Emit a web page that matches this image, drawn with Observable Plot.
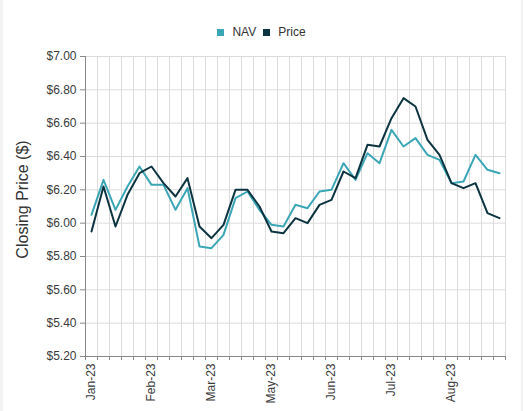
<!DOCTYPE html>
<html>
<head>
<meta charset="utf-8">
<script src="https://cdn.jsdelivr.net/npm/d3@7"></script>
<script src="https://cdn.jsdelivr.net/npm/@observablehq/plot@0.6"></script>
<style>
  body {
    margin: 0;
    background: linear-gradient(to right, #f3f3f3 0 3px, #fff 3px 521px, #f3f3f3 521px);
    font-family: "Liberation Sans", Arial, sans-serif;
  }
  #legend {
    height: 44px;
    display: flex;
    justify-content: center;
    align-items: flex-start;
    font-size: 12px;
    color: #333;
  }
  #legend span.item { display: flex; align-items: center; margin-top: 25px; }
  #legend span.sw { width: 7px; height: 7px; margin-right: 8px; }
  #legend span.item + span.item { margin-left: 7px; }
  #chart svg { display: block; }
</style>
</head>
<body>
<div id="legend"></div>
<div id="chart"></div>
<script>
// weekly closing values, Jan-23 .. Aug-23
const nav = [6.05, 6.26, 6.08, 6.22, 6.34, 6.23, 6.23, 6.08, 6.21, 5.86,
             5.85, 5.93, 6.15, 6.19, 6.08, 5.99, 5.98, 6.11, 6.09, 6.19,
             6.20, 6.36, 6.26, 6.42, 6.36, 6.56, 6.46, 6.51, 6.41, 6.38,
             6.24, 6.25, 6.41, 6.32, 6.30]
const price = [5.95, 6.22, 5.98, 6.17, 6.30, 6.34, 6.24, 6.16, 6.27, 5.98,
               5.91, 5.99, 6.20, 6.20, 6.10, 5.95, 5.94, 6.03, 6.00, 6.11,
               6.14, 6.31, 6.27, 6.47, 6.46, 6.63, 6.75, 6.70, 6.50, 6.41,
               6.24, 6.21, 6.24, 6.06, 6.03]
const tickLabels = ['Jan-23', 'Feb-23', 'Mar-23', 'May-23', 'Jun-23', 'Jul-23', 'Aug-23']
const tickEvery = 5
const yTicks = [5.2, 5.4, 5.6, 5.8, 6.0, 6.2, 6.4, 6.6, 6.8, 7.0]
const seriesNames = ['NAV', 'Price']
const seriesColors = ['#3ba6b6', '#0c3440']

const weeks = d3.range(nav.length)
const rows = [
  ...weeks.map(i => ({week: i, series: 'NAV', value: nav[i]})),
  ...weeks.map(i => ({week: i, series: 'Price', value: price[i]})),
]
const bounds = d3.range(-0.5, weeks.length, 1)
const labelWeeks = weeks.filter(i => i % tickEvery === 0)

// legend
d3.select('#legend').selectAll('span.item')
  .data(seriesNames)
  .join('span').attr('class', 'item')
  .call(s => s.append('span').attr('class', 'sw').style('background', (d, i) => seriesColors[i]))
  .call(s => s.append('span').text(d => d))

let chart = Plot.plot({
  width: 523,
  height: 367,
  marginLeft: 85,
  marginRight: 18,
  marginTop: 12,
  marginBottom: 55,
  style: {fontFamily: '"Liberation Sans", Arial, sans-serif', fontSize: '12px', color: '#333', background: 'transparent'},
  x: {type: 'linear', domain: [-0.5, weeks.length - 0.5], axis: null},
  y: {domain: [5.2, 7.0], axis: null},
  color: {domain: seriesNames, range: seriesColors},
  marks: [
    Plot.gridY(yTicks, {stroke: '#dcdcdc', strokeOpacity: 1}),
    Plot.gridX(bounds, {stroke: '#dcdcdc', strokeOpacity: 1}),
    Plot.axisY(yTicks, {tickSize: 5, tickPadding: 4, stroke: '#888', fill: '#3a3a3a', tickFormat: d => '$' + d.toFixed(2), label: null}),
    Plot.axisX(bounds, {tickSize: 4, stroke: '#888', tickFormat: () => '', label: null}),
    Plot.axisX(labelWeeks, {tickSize: 0, tickPadding: 7, tickRotate: -90, fill: '#3a3a3a', tickFormat: i => tickLabels[i / tickEvery], label: null}),
    Plot.ruleX([-0.5], {stroke: '#888'}),
    Plot.ruleY([5.2], {stroke: '#888'}),
    Plot.line(rows, {x: 'week', y: 'value', stroke: 'series', z: 'series', strokeWidth: 2}),
    // y-axis title
    Plot.text(['Closing Price ($)'], {frameAnchor: 'left', textAnchor: 'middle', rotate: -90, dx: -63, dy: -7, fontSize: 16, fill: '#333'}),
  ]
})
d3.select('#chart').append(() => chart)
</script>
</body>
</html>
